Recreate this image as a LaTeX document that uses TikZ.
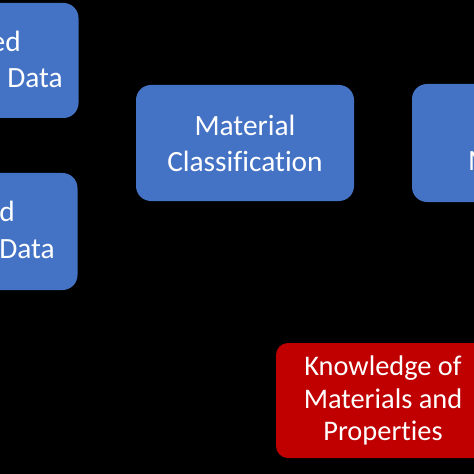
\documentclass[tikz,border=0pt]{standalone}
\usepackage{fontspec}
\setmainfont[Ligatures=NoCommon]{Carlito}
\definecolor{boxblue}{HTML}{4472C4}
\definecolor{boxred}{HTML}{C00000}

\begin{document}
\begin{tikzpicture}[x=1bp, y=-1bp,
		blk/.style={fill=boxblue, rounded corners=15bp, inner sep=0pt,
			minimum width=218bp, text=white, align=center,
			font=\fontsize{29.5}{36}\selectfont},
		redblk/.style={blk, fill=boxred, rounded corners=12bp,
			font=\fontsize{28.5}{33}\selectfont},
		lbl/.style={text=white, inner sep=0pt, font=\fontsize{29.5}{36}\selectfont}]
		\fill[black] (0,0) rectangle (474,474);
		\clip (0,0) rectangle (474,474);
		
		\node[blk, minimum height=115bp] (topdata) at (-30.5,60.5) {};
		\node[blk, minimum height=117bp] (botdata) at (-31.5,231.5) {};
		\node[blk, minimum height=116bp] (classif) at (245,143) {Material\\Classification};
		\node[blk, minimum height=118bp] (rightbox) at (521,143) {};
		\node[redblk, minimum width=214bp, minimum height=115bp] (knowledge) at (383,400.5)
			{Knowledge of\\Materials and\\Properties};
		
		\node[lbl, anchor=base east] (topa) at (21,52) {ed};
		\node[lbl, anchor=base east] (topb) at (63,88) {Data};
		\node[lbl, anchor=base east] (bota) at (15,222) {d};
		\node[lbl, anchor=base east] (botb) at (55,258) {Data};
		\node[lbl, anchor=base west] (righta) at (468,171) {M};
\end{tikzpicture}
\end{document}
